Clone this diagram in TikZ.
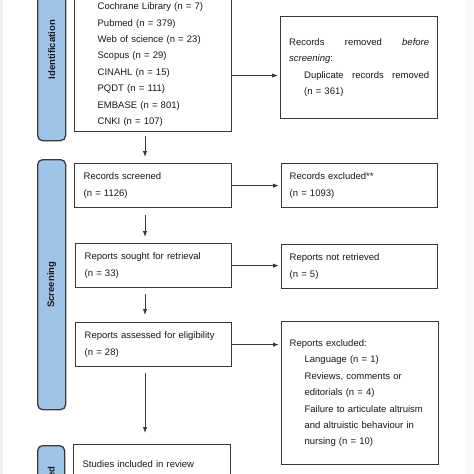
\documentclass[tikz,border=0pt]{standalone}
\usepackage{fontspec}
\setmainfont{Liberation Sans}
\usetikzlibrary{arrows.meta,calc}
\definecolor{bandblue}{RGB}{160,196,232}
\definecolor{edge}{RGB}{58,58,58}
\begin{document}
\begin{tikzpicture}[x=1pt,y=-1pt,
  font=\fontsize{9.5}{16.4}\selectfont,
  box/.style={draw=edge,line width=1.3pt,fill=white,inner sep=0pt,anchor=north west,text=black!90,align=left},
  band/.style={draw=edge,line width=1.3pt,fill=bandblue,rounded corners=5pt,anchor=north west,minimum width=28pt,inner sep=0pt},
  bandlabel/.style={font=\fontsize{9.5}{11}\selectfont\bfseries,rotate=90,text=black!90},
  arr/.style={draw=edge,line width=1pt,-{Latex[length=6pt,width=4.5pt]}}]
\useasboundingbox (0,0) rectangle (474,474);
\clip (0,0) rectangle (474,474);
\fill[white] (0,0) rectangle (474,474);
\fill[gray!12] (0,0) rectangle (2.5,474);
\fill[gray!5] (465,0) rectangle (474,474);

% bands
\node[band, minimum height=182pt] (bid) at (37,-42) {};
\node[bandlabel] (lid) at (bid.center) {Identification};
\node[band, minimum height=250pt] (bsc) at (37,159) {};
\node[bandlabel] (lsc) at (bsc.center) {Screening};
\node[band, minimum width=27pt, minimum height=81pt] (bin) at (37,445) {};
\node[bandlabel] (lin) at (bin.center) {Included};

% left column
\node[box, minimum width=157pt, minimum height=134pt, text width=111pt, inner xsep=23pt] (idb) at (74,-3)
  {Cochrane Library (n = 7)\\Pubmed (n = 379)\\Web of science (n = 23)\\Scopus (n = 29)\\CINAHL (n = 15)\\PQDT (n = 111)\\EMBASE (n = 801)\\CNKI (n = 107)};
\node[box, minimum width=157pt, minimum height=44pt, text width=139pt, inner xsep=9pt] (rs) at (74,163)
  {Records screened\\(n = 1126)};
\node[box, minimum width=156pt, minimum height=44pt, text width=138pt, inner xsep=9pt] (rsr) at (75,243)
  {Reports sought for retrieval\\(n = 33)};
\node[box, minimum width=156pt, minimum height=44pt, text width=138pt, inner xsep=9pt] (rass) at (75,322)
  {Reports assessed for eligibility\\(n = 28)};
\node[box, minimum width=157pt, minimum height=38pt, text width=139pt, inner xsep=9pt] (inc) at (73,444)
  {Studies included in review};

% right column
\node[box, minimum width=157pt, minimum height=102pt, text width=140pt, inner xsep=8.5pt] (rr) at (280,16)
  {\makebox[140pt][l]{Records\hfill removed\hfill\textit{before}}\\\textit{screening}:\\\hspace*{15pt}\makebox[125pt][l]{Duplicate\hfill records\hfill removed}\\\hspace*{15pt}(n = 361)};
\node[box, minimum width=156pt, minimum height=44pt, text width=140pt, inner xsep=8pt] (re) at (281,163)
  {Records excluded**\\(n = 1093)};
\node[box, minimum width=156pt, minimum height=44pt, text width=140pt, inner xsep=8pt] (rnr) at (281,244)
  {Reports not retrieved\\(n = 5)};
\node[box, minimum width=157pt, minimum height=143pt, text width=141pt, inner xsep=8pt] (rex) at (281,321)
  {Reports excluded:\\\hspace*{15pt}Language (n = 1)\\\hspace*{15pt}Reviews, comments or\\\hspace*{15pt}editorials (n = 4)\\\hspace*{15pt}Failure to articulate altruism\\\hspace*{15pt}and altruistic behaviour in\\\hspace*{15pt}nursing (n = 10)};

% connectors
\coordinate (ax) at (145,0);
\coordinate (ay) at (0,75.5);
\draw[arr] ($(idb.south -| ax)+(0,4)$) -- ($(rs.north -| ax)+(0,-6)$);
\draw[arr] ($(rs.south -| ax)+(0,7)$) -- ($(rsr.north -| ax)+(0,-6)$);
\draw[arr] ($(rsr.south -| ax)+(0,6)$) -- ($(rass.north -| ax)+(0,-7)$);
\draw[arr] ($(rass.south -| ax)+(0,6)$) -- ($(inc.north -| ax)+(0,-11)$);
\draw[arr, shorten >=2pt] (idb.east |- ay) -- (rr.west |- ay);
\draw[arr, shorten >=2pt] (rs.east) -- (re.west |- rs.east);
\draw[arr, shorten >=2pt] (rsr.east) -- (rnr.west |- rsr.east);
\draw[arr, shorten >=2pt] (rass.east) -- (rex.west |- rass.east);
\end{tikzpicture}
\end{document}
